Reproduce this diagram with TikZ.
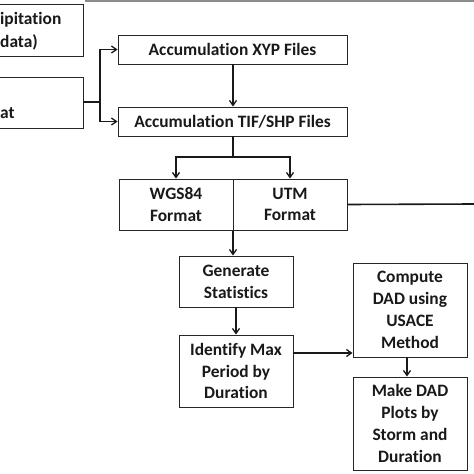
\documentclass[tikz,border=0pt]{standalone}
\usepackage{fontspec}
\setmainfont[Ligatures=NoCommon]{Carlito}
\usetikzlibrary{arrows.meta}
\begin{document}
\begin{tikzpicture}[x=1pt,y=-1pt,
  box/.style={draw=black!85,line width=0.9pt,fill=white},
  txt/.style={font=\fontsize{17.4}{21.8}\selectfont\bfseries,align=center,inner sep=0pt,text=black!90},
  conn/.style={line width=1.6pt,black!90},
  arr/.style={conn,-{Straight Barb[length=5pt,width=7pt,line width=1.3pt]}}]
\useasboundingbox (0,0) rectangle (474,474);
\fill[white] (0,0) rectangle (474,474);
\fill[black!45] (85,0) rectangle (474,2.2);
% left boxes (cropped)
\draw[box] (-5,4) rectangle (83,56);
\node[txt,anchor=west] (pt1) at (0,20) {ipitation};
\node[txt,anchor=west] (pt2) at (0,42) {data)};
\draw[box] (-5,77) rectangle (83,128);
\coordinate (lbr) at (83,102);
\node[txt,anchor=west] (ft) at (0,113) {at};
% accumulation boxes
\node[box,minimum width=229pt,minimum height=29pt,txt] (xyp) at (232.5,49.5) {Accumulation XYP Files};
\node[box,minimum width=229pt,minimum height=29pt,txt] (tif) at (232.5,121.5) {Accumulation TIF/SHP Files};
\coordinate (sp) at (100,102);
\draw[conn] (lbr) -- (sp);
\draw[arr] (sp) |- (xyp.west);
\draw[arr] (sp) |- (tif.west);
\draw[arr] (xyp.south -| 233,0) -- (tif.north -| 233,0);
% WGS / UTM
\node[box,minimum width=114pt,minimum height=51pt,txt] (wgs) at (176,204.5) {WGS84\\Format};
\node[box,minimum width=114pt,minimum height=51pt,txt] (utm) at (290,204.5) {UTM\\Format};
\coordinate (tj) at (233,157);
\draw[conn] (tif.south -| tj) -- (tj);
\draw[arr] (tj) -| (wgs.north);
\draw[arr] (tj) -| (utm.north);
\coordinate (re) at (474,204);
\draw[conn] (utm.east) -- (re);
% stats
\node[box,minimum width=114pt,minimum height=51pt,txt] (gen) at (236,281.5) {Generate\\Statistics};
\node[box,minimum width=114pt,minimum height=72pt,txt] (idm) at (236,371) {Identify Max\\Period by\\Duration};
\coordinate (ws) at (233,230.5);
\draw[arr] (ws) -- (ws |- gen.north);
\draw[arr] (gen.south) -- (idm.north);
% DAD
\node[box,minimum width=114pt,minimum height=94pt,txt] (dad) at (410,310) {Compute\\DAD using\\USACE\\Method};
\node[box,minimum width=114pt,minimum height=93pt,txt] (plt) at (410,423.5) {Make DAD\\Plots by\\Storm and\\Duration};
\draw[arr] (idm.east |- 0,353) -- (dad.west |- 0,353);
\draw[arr] (dad.south -| 407,0) -- (plt.north -| 407,0);
\end{tikzpicture}
\end{document}
